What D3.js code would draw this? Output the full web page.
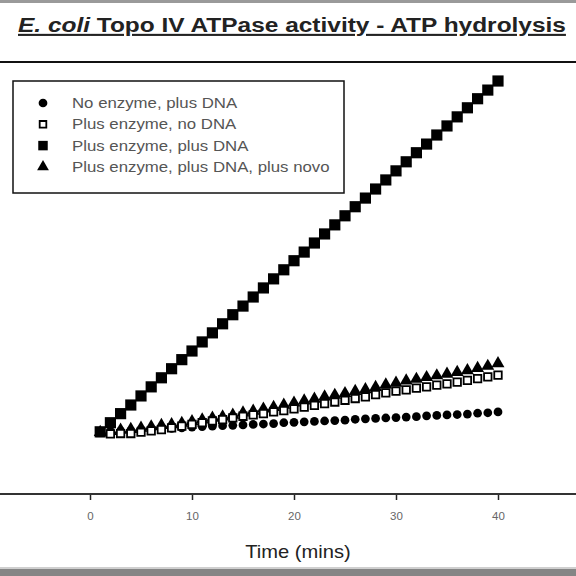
<!DOCTYPE html>
<html>
<head>
<meta charset="utf-8">
<script src="https://cdn.jsdelivr.net/npm/d3@7"></script>
<style>
  body { margin: 0; background: #fff; }
  text { font-family: "Liberation Sans", Arial, sans-serif; }
</style>
</head>
<body>
<script>
// time points (mins) and readings for each condition
const times = [1,2,3,4,5,6,7,8,9,10,11,12,13,14,15,16,17,18,19,20,
               21,22,23,24,25,26,27,28,29,30,31,32,33,34,35,36,37,38,39,40];

const noEnzyme = [14.3,14.5,14.6,14.7,14.9,15.0,15.1,15.2,15.3,15.5,
                  15.6,15.7,15.8,15.9,16.0,16.1,16.2,16.3,16.5,16.6,
                  16.7,16.8,16.9,17.0,17.1,17.3,17.4,17.5,17.6,17.7,
                  17.8,17.9,18.1,18.2,18.3,18.4,18.5,18.7,18.8,19.0];

const enzNoDNA = [14.2,13.9,14.0,14.0,14.3,14.6,14.9,15.3,15.7,16.1,
                  16.5,16.9,17.2,17.6,18.0,18.3,18.6,19.0,19.3,19.7,
                  20.1,20.5,20.9,21.3,21.7,22.1,22.5,23.0,23.4,23.8,
                  24.1,24.5,24.8,25.2,25.5,25.9,26.3,26.7,27.1,27.5];

const enzDNA = [14.4,16.5,18.6,20.6,22.7,24.8,26.9,29.0,31.1,33.1,
                35.2,37.3,39.4,41.5,43.5,45.6,47.7,49.8,51.9,54.0,
                56.0,58.1,60.2,62.3,64.4,66.5,68.5,70.6,72.7,74.8,
                76.9,79.0,81.0,83.1,85.2,87.3,89.4,91.5,93.5,95.6];

const enzDNANovo = [14.3,14.5,14.8,15.0,15.3,15.6,15.9,16.1,16.4,16.8,
                    17.2,17.6,17.9,18.3,18.8,19.2,19.7,20.1,20.6,21.1,
                    21.6,22.0,22.5,22.9,23.3,23.8,24.2,24.7,25.3,25.7,
                    26.2,26.6,27.0,27.4,27.8,28.2,28.6,29.1,29.6,30.2];

const legendLabels = ['No enzyme, plus DNA', 'Plus enzyme, no DNA',
                      'Plus enzyme, plus DNA', 'Plus enzyme, plus DNA, plus novo'];
const xTicks = [0, 10, 20, 30, 40];

const width = 576;
const height = 576;
const stretch = 1.2; // the scanned figure is wider than tall, text included

const svg = d3.select('body').append('svg')
  .attr('width', width)
  .attr('height', height);

// grey page edges of the scan
svg.append('rect').attr('x', 0).attr('y', 0).attr('width', width).attr('height', 3).attr('fill', '#9a9a9a');
svg.append('rect').attr('x', 0).attr('y', 567).attr('width', width).attr('height', 2).attr('fill', '#cfcfcf');
svg.append('rect').attr('x', 0).attr('y', 569).attr('width', width).attr('height', 7).attr('fill', '#858585');

// title (squeezed a touch so it just fits the page)
const title = svg.append('text')
  .attr('transform', 'translate(18 32) scale(1.165 1)')
  .attr('font-size', 21)
  .attr('font-weight', 'bold')
  .attr('fill', '#222')
  .style('text-decoration', 'underline');
title.append('tspan').attr('font-style', 'italic').text('E. coli');
title.append('tspan').text(' Topo IV ATPase activity - ATP hydrolysis');

const xScale = d3.scaleLinear().domain([0, 40]).range([90, 498]);
const yScale = d3.scaleLinear().domain([0, 100]).range([494, 62]);

// frame top line
svg.append('line')
  .attr('x1', 0).attr('x2', width)
  .attr('y1', yScale(100)).attr('y2', yScale(100))
  .attr('stroke', '#111').attr('stroke-width', 2);

// x axis
const xAxis = d3.axisBottom(xScale).tickValues(xTicks).tickSize(6).tickPadding(12);
const gx = svg.append('g')
  .attr('transform', 'translate(0 ' + yScale(0) + ')')
  .call(xAxis);
gx.select('.domain').remove();
gx.selectAll('.tick line').attr('stroke', '#222').attr('stroke-width', 1.5);
gx.selectAll('.tick text').attr('font-size', 11.5).attr('fill', '#666')
  .attr('font-family', '"Liberation Sans", Arial, sans-serif');
svg.append('line')
  .attr('x1', 0).attr('x2', width)
  .attr('y1', yScale(0)).attr('y2', yScale(0))
  .attr('stroke', '#333').attr('stroke-width', 2);

svg.append('text')
  .attr('transform', 'translate(298 558) scale(1.15 1)')
  .attr('text-anchor', 'middle')
  .attr('font-size', 17.5)
  .attr('fill', '#222')
  .text('Time (mins)');

// marker styles per series
const series = [
  { values: noEnzyme,   sym: d3.symbolCircle,   size: 60, fill: '#000', stroke: 'none' },
  { values: enzDNANovo, sym: d3.symbolTriangle, size: 72, fill: '#000', stroke: 'none' },
  { values: enzNoDNA,   sym: d3.symbolSquare,   size: 56, fill: '#fff', stroke: '#000' },
  { values: enzDNA,     sym: d3.symbolSquare,   size: 125, fill: '#000', stroke: 'none' }
];

const plot = svg.append('g');
series.forEach(function(s) {
  plot.append('g').selectAll('path')
    .data(times.map(function(t, i) { return { t: t, v: s.values[i] }; }))
    .enter().append('path')
    .attr('transform', function(d) { return 'translate(' + xScale(d.t) + ' ' + yScale(d.v) + ')'; })
    .attr('d', d3.symbol().type(s.sym).size(s.size))
    .attr('fill', s.fill)
    .attr('stroke', s.stroke)
    .attr('stroke-width', 1.8);
});

// legend
const legend = svg.append('g');
legend.append('rect')
  .attr('x', 13).attr('y', 81)
  .attr('width', 331).attr('height', 112)
  .attr('fill', '#fff')
  .attr('stroke', '#111').attr('stroke-width', 1.5);

const legendOrder = [series[0], series[2], series[3], series[1]];
const legendSizes = [60, 44, 90, 60];
legendLabels.forEach(function(label, i) {
  const y = 103 + i * 21.3;
  const s = legendOrder[i];
  legend.append('path')
    .attr('transform', 'translate(43 ' + y + ')')
    .attr('d', d3.symbol().type(s.sym).size(legendSizes[i]))
    .attr('fill', s.fill)
    .attr('stroke', s.stroke)
    .attr('stroke-width', 1.8);
  legend.append('text')
    .attr('transform', 'translate(72 ' + (y + 5) + ') scale(' + stretch + ' 1)')
    .attr('font-size', 14)
    .attr('fill', '#555')
    .text(label);
});
</script>
</body>
</html>
